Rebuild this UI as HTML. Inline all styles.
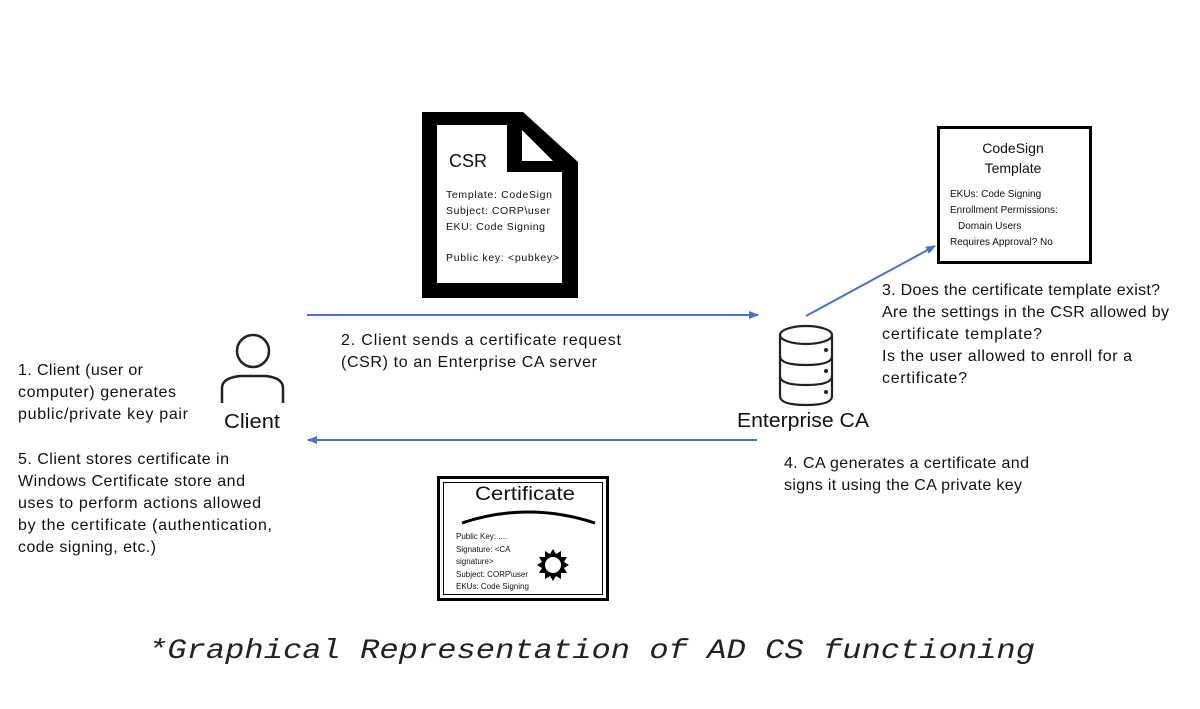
<!DOCTYPE html>
<html><head><meta charset="utf-8"><style>
body{margin:0;background:#fff}
svg text{font-family:"Liberation Sans",sans-serif;fill:#111}
</style></head><body>
<svg width="1200" height="704" viewBox="0 0 1200 704" xmlns="http://www.w3.org/2000/svg">
<defs><marker id="a" markerWidth="10" markerHeight="8" refX="9" refY="4" orient="auto" markerUnits="userSpaceOnUse"><path d="M0,0L10,4L0,8z" fill="#4a72c4"/></marker></defs>
<!-- CSR -->
<polygon points="422,112 523,112 578,162 578,298 422,298" fill="#000"/>
<polygon points="437,125 507,125 507,172 562,172 562,283 437,283" fill="#fff"/>
<polygon points="522,130 522,161 553,161" fill="#fff"/>
<text x="449" y="167" font-size="18">CSR</text>
<g font-size="10.5" lengthAdjust="spacingAndGlyphs"><text x="446" y="198" textLength="106">Template: CodeSign</text><text x="446" y="214" textLength="104">Subject: CORP\user</text><text x="446" y="230" textLength="99">EKU: Code Signing</text><text x="446" y="261" textLength="113">Public key: &lt;pubkey&gt;</text></g>
<!-- Template -->
<rect x="938.5" y="127.5" width="152" height="135" fill="#fff" stroke="#000" stroke-width="3"/>
<g font-size="14" text-anchor="middle"><text x="1013" y="153">CodeSign</text><text x="1013" y="173">Template</text></g>
<g font-size="10"><text x="950" y="197">EKUs: Code Signing</text><text x="950" y="213">Enrollment Permissions:</text><text x="958" y="229">Domain Users</text><text x="950" y="245">Requires Approval? No</text></g>
<!-- arrows -->
<line x1="307" y1="315" x2="758" y2="315" stroke="#4a72c4" stroke-width="2" marker-end="url(#a)"/>
<line x1="806" y1="316" x2="935" y2="246" stroke="#4a72c4" stroke-width="2" marker-end="url(#a)"/>
<line x1="757" y1="440" x2="308" y2="440" stroke="#4a72c4" stroke-width="2" marker-end="url(#a)"/>
<!-- client -->
<circle cx="253" cy="351" r="16" fill="none" stroke="#222" stroke-width="2.5"/>
<path d="M222,403V388Q222,378 240,376H266Q283,378 283,388V403" fill="none" stroke="#222" stroke-width="2.5"/>
<text x="224" y="428" font-size="20" textLength="56" lengthAdjust="spacingAndGlyphs">Client</text>
<!-- db -->
<g fill="none" stroke="#222" stroke-width="2.2">
<ellipse cx="806" cy="335" rx="26" ry="9"/>
<path d="M780,335V396Q780,405 806,405Q832,405 832,396V335"/>
<path d="M780,356Q780,365 806,365Q832,365 832,356"/>
<path d="M780,376Q780,385 806,385Q832,385 832,376"/>
</g>
<g fill="#222"><circle cx="826" cy="350" r="2"/><circle cx="826" cy="371" r="2"/><circle cx="826" cy="392" r="2"/></g>
<text x="737" y="427" font-size="20" textLength="132" lengthAdjust="spacingAndGlyphs">Enterprise CA</text>
<!-- labels -->
<g font-size="16" lengthAdjust="spacingAndGlyphs">
<text x="18" y="375" textLength="125">1. Client (user or</text><text x="18" y="397" textLength="158">computer) generates</text><text x="18" y="419" textLength="170">public/private key pair</text>
<text x="18" y="464" textLength="211">5. Client stores certificate in</text><text x="18" y="486" textLength="227">Windows Certificate store and</text><text x="18" y="508" textLength="243">uses to perform actions allowed</text><text x="18" y="530" textLength="254">by the certificate (authentication,</text><text x="18" y="552" textLength="138">code signing, etc.)</text>
<text x="341" y="345" textLength="280">2. Client sends a certificate request</text><text x="341" y="367" textLength="256">(CSR) to an Enterprise CA server</text>
<text x="882" y="295" textLength="278">3. Does the certificate template exist?</text><text x="882" y="317" textLength="287">Are the settings in the CSR allowed by</text><text x="882" y="339" textLength="160">certificate template?</text><text x="882" y="361" textLength="250">Is the user allowed to enroll for a</text><text x="882" y="383" textLength="85">certificate?</text>
<text x="784" y="468" textLength="245">4. CA generates a certificate and</text><text x="784" y="490" textLength="238">signs it using the CA private key</text>
</g>
<!-- certificate -->
<rect x="438.5" y="477.5" width="169" height="122" fill="#fff" stroke="#000" stroke-width="3"/>
<rect x="443.5" y="482.5" width="159" height="112" fill="none" stroke="#000" stroke-width="1"/>
<text x="475" y="500" font-size="19" textLength="100" lengthAdjust="spacingAndGlyphs">Certificate</text>
<path d="M462,523Q528,501 595,523" fill="none" stroke="#000" stroke-width="3"/>
<g font-size="8"><text x="456" y="539">Public Key: ....</text><text x="456" y="552">Signature: &lt;CA</text><text x="456" y="564">signature&gt;</text><text x="456" y="577">Subject: CORP\user</text><text x="456" y="589">EKUs: Code Signing</text></g>
<polygon points="553,549 556,554 561,551 561,557 567,557 564,562 569,565 564,568 567,573 561,573 561,579 556,576 553,581 550,576 545,579 545,573 539,573 542,568 537,565 542,562 539,557 545,557 545,551 550,554" fill="#000"/>
<circle cx="553" cy="565" r="8" fill="#fff"/>
<text x="148" y="658" font-size="28" font-style="italic" style="font-family:'Liberation Mono',monospace;fill:#222" textLength="887" lengthAdjust="spacingAndGlyphs">*Graphical Representation of AD CS functioning</text>
</svg>
</body></html>
